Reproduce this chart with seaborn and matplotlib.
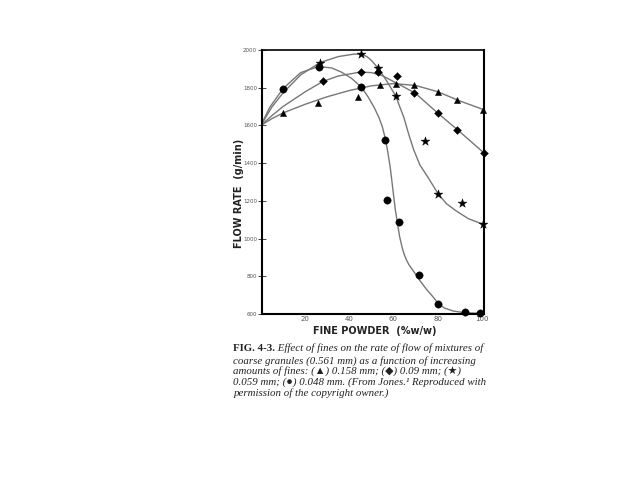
import matplotlib
matplotlib.use("Agg")
import matplotlib.pyplot as plt
import seaborn as sns
import pandas as pd

# ---- data ----
tri_x = [10, 26, 44, 54, 61, 69.5, 80, 89, 100.5]
tri_y = [1666, 1718, 1750, 1817, 1822, 1812, 1779, 1734, 1684]

dia_x = [28, 45.5, 53, 61.5, 69.5, 80.3, 89, 100.8]
dia_y = [1833, 1883, 1883, 1862, 1774, 1666, 1577, 1456]

star_x = [26.7, 45.4, 53, 61, 74.2, 80.3, 91.2, 100.5]
star_y = [1933, 1978, 1902, 1757, 1520, 1236, 1189, 1077]

circ_x = [10, 26.4, 45.4, 56.4, 57, 62.5, 71.4, 80.3, 92.3, 99]
circ_y = [1795, 1910, 1802, 1522, 1203, 1087, 808, 651, 609, 604]

# hand-drawn fitted curves
tri_curve_x = [0, 5, 10, 20, 30, 40, 50, 60, 70, 80, 90, 100.8]
tri_curve_y = [1600, 1636, 1666, 1712, 1752, 1785, 1810, 1822, 1812, 1779, 1730, 1684]

dia_curve_x = [0, 5, 10, 20, 28, 35, 45, 50, 55, 60, 65, 70, 80, 89, 100.8]
dia_curve_y = [1600, 1652, 1700, 1778, 1833, 1862, 1883, 1880, 1864, 1833, 1802, 1770, 1666, 1577, 1456]

star_curve_x = [0, 5, 10, 18, 26.7, 35, 42, 45.4, 48, 50, 53, 57, 61, 63, 64.7, 67, 69.2, 72, 76,
                80.3, 84, 88.6, 94, 100.8]
star_curve_y = [1600, 1698, 1772, 1868, 1933, 1965, 1978, 1978, 1965, 1945, 1905, 1835, 1757, 1695,
                1643, 1550, 1470, 1390, 1318, 1236, 1185, 1145, 1105, 1075]

circ_curve_x = [0, 4, 10, 18, 26, 32, 36.4, 41, 45.4, 48.5, 51.3, 53.5, 55, 56.5, 57.5, 58.5, 59.3,
                60, 60.8, 61.7, 62.8, 64, 65, 66, 67, 68, 70, 72, 75, 78, 80.3, 83, 87, 92, 100.8]
circ_curve_y = [1600, 1696, 1795, 1880, 1912, 1905, 1883, 1850, 1804, 1752, 1695, 1640, 1592, 1522,
                1455, 1382, 1305, 1236, 1158, 1091, 1010, 950, 912, 884, 862, 845, 812, 777, 730,
                690, 655, 632, 616, 607, 603]

x_ticks = [20, 40, 60, 80, 100]
y_ticks = [600, 800, 1000, 1200, 1400, 1600, 1800, 2000]

caption_bold = "FIG. 4-3."
caption_lines = [
    " Effect of fines on the rate of flow of mixtures of",
    "coarse granules (0.561 mm) as a function of increasing",
    "amounts of fines: (\u25b2) 0.158 mm; (\u25c6) 0.09 mm; (\u2605)",
    "0.059 mm; (\u25cf) 0.048 mm. (From Jones.\u00b9 Reproduced with",
    "permission of the copyright owner.)",
]

sns.set_style("white")
plt.rcParams['font.family'] = ['DejaVu Sans']

W, H = 638, 478
fig = plt.figure(figsize=(W / 100, H / 100), dpi=100)
ax = fig.add_axes([262 / W, 1 - 314 / H, (484 - 262) / W, (314 - 50) / H])

line_col = "#777777"
curves = [(tri_curve_x, tri_curve_y), (dia_curve_x, dia_curve_y),
          (star_curve_x, star_curve_y), (circ_curve_x, circ_curve_y)]
for cx, cy in curves:
    df = pd.DataFrame({"x": cx, "y": cy})
    sns.lineplot(data=df, x="x", y="y", sort=False, ax=ax, color=line_col,
                 linewidth=1.0, estimator=None, zorder=2)

pts = [(tri_x, tri_y, "^", 20), (dia_x, dia_y, "D", 16),
       (star_x, star_y, "*", 45), (circ_x, circ_y, "o", 28)]
for px, py, m, s in pts:
    df = pd.DataFrame({"x": px, "y": py})
    sns.scatterplot(data=df, x="x", y="y", marker=m, s=s, color="black",
                    edgecolor="black", linewidth=0.3, ax=ax, zorder=3,
                    clip_on=False)

ax.set_xlim(0.5, 101)
ax.set_ylim(600, 2000)
ax.set_xticks(x_ticks)
ax.set_yticks(y_ticks)
ax.set_xticklabels([str(v) for v in x_ticks], fontsize=5, color="#555555")
ax.set_yticklabels([str(v) for v in y_ticks], fontsize=4, color="#555555")
ax.tick_params(axis="x", length=0, pad=1.5)
ax.tick_params(axis="y", length=6, width=0.7, direction="inout", pad=0.5, color="#444444", left=True)
ax.set_xlabel("")
ax.set_ylabel("")
for side in ["left", "right", "bottom", "top"]:
    ax.spines[side].set_color("black")
    ax.spines[side].set_visible(True)
    ax.spines[side].set_linewidth(1.5)
ax.spines["top"].set_linewidth(1.2)

fig.text(238.5 / W, 1 - 193 / H, "FLOW RATE  (g/min)", rotation=90, ha="center",
         va="center", fontsize=7, fontweight="bold", color="#222222")
fig.text(374.5 / W, 1 - 331.5 / H, "FINE POWDER  (%w/w)", ha="center",
         va="center", fontsize=7, fontweight="bold", color="#222222")

serif = ['Liberation Serif', 'DejaVu Sans']
y_lines = [348.3, 360.7, 371.5, 382.5, 393.5]
x0 = 233.3 / W
fs = 7.8
fig.canvas.draw()
r = fig.canvas.get_renderer()
tb = fig.text(x0, 1 - y_lines[0] / H, caption_bold, family=serif, fontweight="bold",
              fontsize=fs, va="center", ha="left", color="#222222")
bb = tb.get_window_extent(r)
fig.text(bb.x1 / fig.bbox.width, 1 - y_lines[0] / H, caption_lines[0], family=serif,
         style="italic", fontsize=fs, va="center", ha="left", color="#222222")
for yl, txt in zip(y_lines[1:], caption_lines[1:]):
    fig.text(x0, 1 - yl / H, txt, family=serif, style="italic", fontsize=fs,
             va="center", ha="left", color="#222222")

fig.savefig("out.png", dpi=100, facecolor="white")
